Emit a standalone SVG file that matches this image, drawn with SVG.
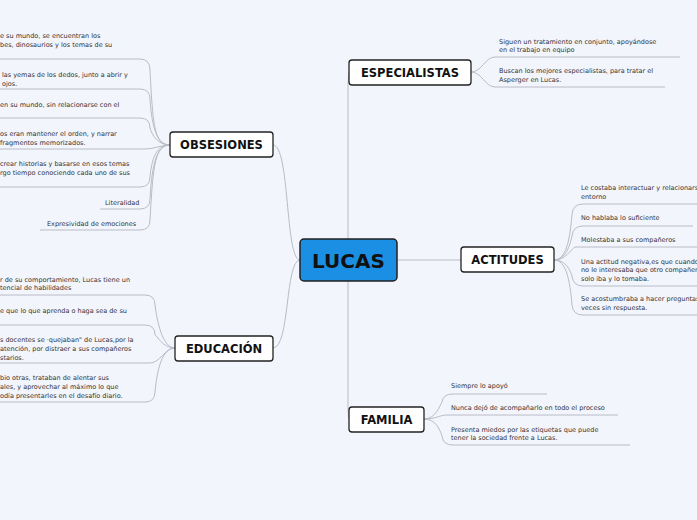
<svg xmlns="http://www.w3.org/2000/svg" width="697" height="520" viewBox="0 0 697 520">
<style>
.t{font-family:"DejaVu Sans",Verdana,sans-serif;font-size:6.5px;fill:#333}
.n{fill:#fff;stroke:#222;stroke-width:1.3}
.nt{font-family:"DejaVu Sans",Verdana,sans-serif;font-size:11.5px;font-weight:bold;fill:#111;text-anchor:middle}
.c{fill:none;stroke:#b8bcc6;stroke-width:1}
</style>
<rect width="697" height="520" fill="#f3f5fc"/>
<g id="connectors">
<path class="c" d="M300,260 C285,260 290,145 273,145"/>
<path class="c" d="M300,260 C285,260 290,348 273,348"/>
<path class="c" d="M348,239 L348,90 C348,78 349,72 349,72"/>
<path class="c" d="M348,281 L348,405 C348,415 349,419 349,419"/>
<path class="c" d="M397,260 L461,260"/>
<!-- obsesiones leaves -->
<path class="c" d="M170,145 C155,145 153,130 150,70 Q150,59 140,59 L0,59"/>
<path class="c" d="M170,145 C158,145 152,130 150,99 Q150,89 140,89 L0,89"/>
<path class="c" d="M170,145 C158,145 152,135 150,128 Q150,118 140,118 L0,118"/>
<path class="c" d="M170,145 C160,145 155,149 145,149 L0,149"/>
<path class="c" d="M170,145 C158,145 152,155 150,177 Q150,187 140,187 L0,187"/>
<path class="c" d="M170,145 C158,145 152,160 150,199 Q150,209 140,209 L100,209"/>
<path class="c" d="M170,145 C155,145 153,165 150,220 Q150,230 140,230 L40,230"/>
<!-- educacion leaves -->
<path class="c" d="M175,348 C162,348 157,320 155,305 Q155,295 145,295 L0,295"/>
<path class="c" d="M175,348 C162,348 157,335 155,335 Q155,325 145,325 L0,325"/>
<path class="c" d="M175,348 C165,348 160,363 150,363 L0,363"/>
<path class="c" d="M175,348 C162,348 157,370 155,392 Q155,402 145,402 L0,402"/>
<!-- especialistas -->
<path class="c" d="M471,72 C482,72 485,57 495,57 L680,57"/>
<path class="c" d="M471,72 C482,72 485,87 495,87 L665,87"/>
<!-- actitudes -->
<path class="c" d="M554,260 C566,260 570,240 572,214 Q573,204 583,204 L697,204"/>
<path class="c" d="M554,260 C566,260 570,245 572,236 Q573,226 583,226 L693,226"/>
<path class="c" d="M554,260 C566,260 570,250 575,247 Q577,247 583,247 L697,247"/>
<path class="c" d="M554,260 C566,260 570,270 572,276 Q573,286 583,286 L697,286"/>
<path class="c" d="M554,260 C566,260 570,280 572,305 Q573,315 583,315 L697,315"/>
<!-- familia -->
<path class="c" d="M424,419 C436,419 440,405 442,402 Q443,394 453,394 L547,394"/>
<path class="c" d="M424,419 C436,419 440,415 447,415 L618,415"/>
<path class="c" d="M424,419 C436,419 440,430 442,436 Q443,445 453,445 L630,445"/>
</g>
<g id="lucas"><rect x="300" y="239" width="97" height="42" rx="4" fill="#1b8fe3" stroke="#222" stroke-width="1.5"/><text x="348.5" y="268" font-family="DejaVu Sans,Verdana,sans-serif" font-size="20" font-weight="bold" fill="#111" text-anchor="middle">LUCAS</text></g>
<g id="obsesiones"><rect class="n" x="170" y="132" width="103" height="25" rx="3"/><text class="nt" x="221.5" y="149">OBSESIONES</text></g>
<g id="educacion"><rect class="n" x="175" y="336" width="98" height="25" rx="3"/><text class="nt" x="224" y="353">EDUCACIÓN</text></g>
<g id="especialistas"><rect class="n" x="349" y="60" width="122" height="25" rx="3"/><text class="nt" x="410" y="77">ESPECIALISTAS</text></g>
<g id="actitudes"><rect class="n" x="461" y="247" width="93" height="25" rx="3"/><text class="nt" x="507.5" y="264">ACTITUDES</text></g>
<g id="familia"><rect class="n" x="349" y="407" width="75" height="25" rx="3"/><text class="nt" x="386.5" y="424">FAMILIA</text></g>
<g id="obsesiones-leaves">
<text class="t" x="0" y="38">e su mundo, se encuentran los</text>
<text class="t" x="0" y="47">bes, dinosaurios y los temas de su</text>
<text class="t" x="2" y="77">las yemas de los dedos, junto a abrir y</text>
<text class="t" x="2" y="86">ojos.</text>
<text class="t" x="0" y="107">en su mundo, sin relacionarse con el</text>
<text class="t" x="0" y="136">os eran mantener el orden, y narrar</text>
<text class="t" x="0" y="145">fragmentos memorizados.</text>
<text class="t" x="0" y="166">crear historias y basarse en esos temas</text>
<text class="t" x="0" y="175">rgo tiempo conociendo cada uno de sus</text>
<text class="t" x="105" y="205">Literalidad</text>
<text class="t" x="47" y="226">Expresividad de emociones</text>
</g>
<g id="educacion-leaves">
<text class="t" x="0" y="282">r de su comportamiento, Lucas tiene un</text>
<text class="t" x="0" y="290">tencial de habilidades</text>
<text class="t" x="0" y="313">e que lo que aprenda o haga sea de su</text>
<text class="t" x="0" y="342">s docentes se ·quejaban" de Lucas,por la</text>
<text class="t" x="0" y="351">atención, por distraer a sus compañeros</text>
<text class="t" x="0" y="360">starios.</text>
<text class="t" x="0" y="380">bio otras, trataban de alentar sus</text>
<text class="t" x="0" y="389">ales, y aprovechar al máximo lo que</text>
<text class="t" x="0" y="398">odía presentarles en el desafío diario.</text>
</g>
<g id="especialistas-leaves">
<text class="t" x="499" y="44">Siguen un tratamiento en conjunto, apoyándose</text>
<text class="t" x="499" y="52">en el trabajo en equipo</text>
<text class="t" x="499" y="73">Buscan los mejores especialistas, para tratar el</text>
<text class="t" x="499" y="82">Asperger en Lucas.</text>
</g>
<g id="actitudes-leaves">
<text class="t" x="581" y="190">Le costaba interactuar y relacionarse con su</text>
<text class="t" x="581" y="199">entorno</text>
<text class="t" x="581" y="220">No hablaba lo suficiente</text>
<text class="t" x="581" y="242">Molestaba a sus compañeros</text>
<text class="t" x="581" y="264">Una actitud negativa,es que cuando</text>
<text class="t" x="581" y="272">no le interesaba que otro compañero</text>
<text class="t" x="581" y="281">solo iba y lo tomaba.</text>
<text class="t" x="581" y="301">Se acostumbraba a hacer preguntas</text>
<text class="t" x="581" y="310">veces sin respuesta.</text>
</g>
<g id="familia-leaves">
<text class="t" x="451" y="388">Siempre lo apoyó</text>
<text class="t" x="451" y="410">Nunca dejó de acompañarlo en todo el proceso</text>
<text class="t" x="451" y="432">Presenta miedos por las etiquetas que puede</text>
<text class="t" x="451" y="440">tener la sociedad frente a Lucas.</text>
</g>
</svg>
